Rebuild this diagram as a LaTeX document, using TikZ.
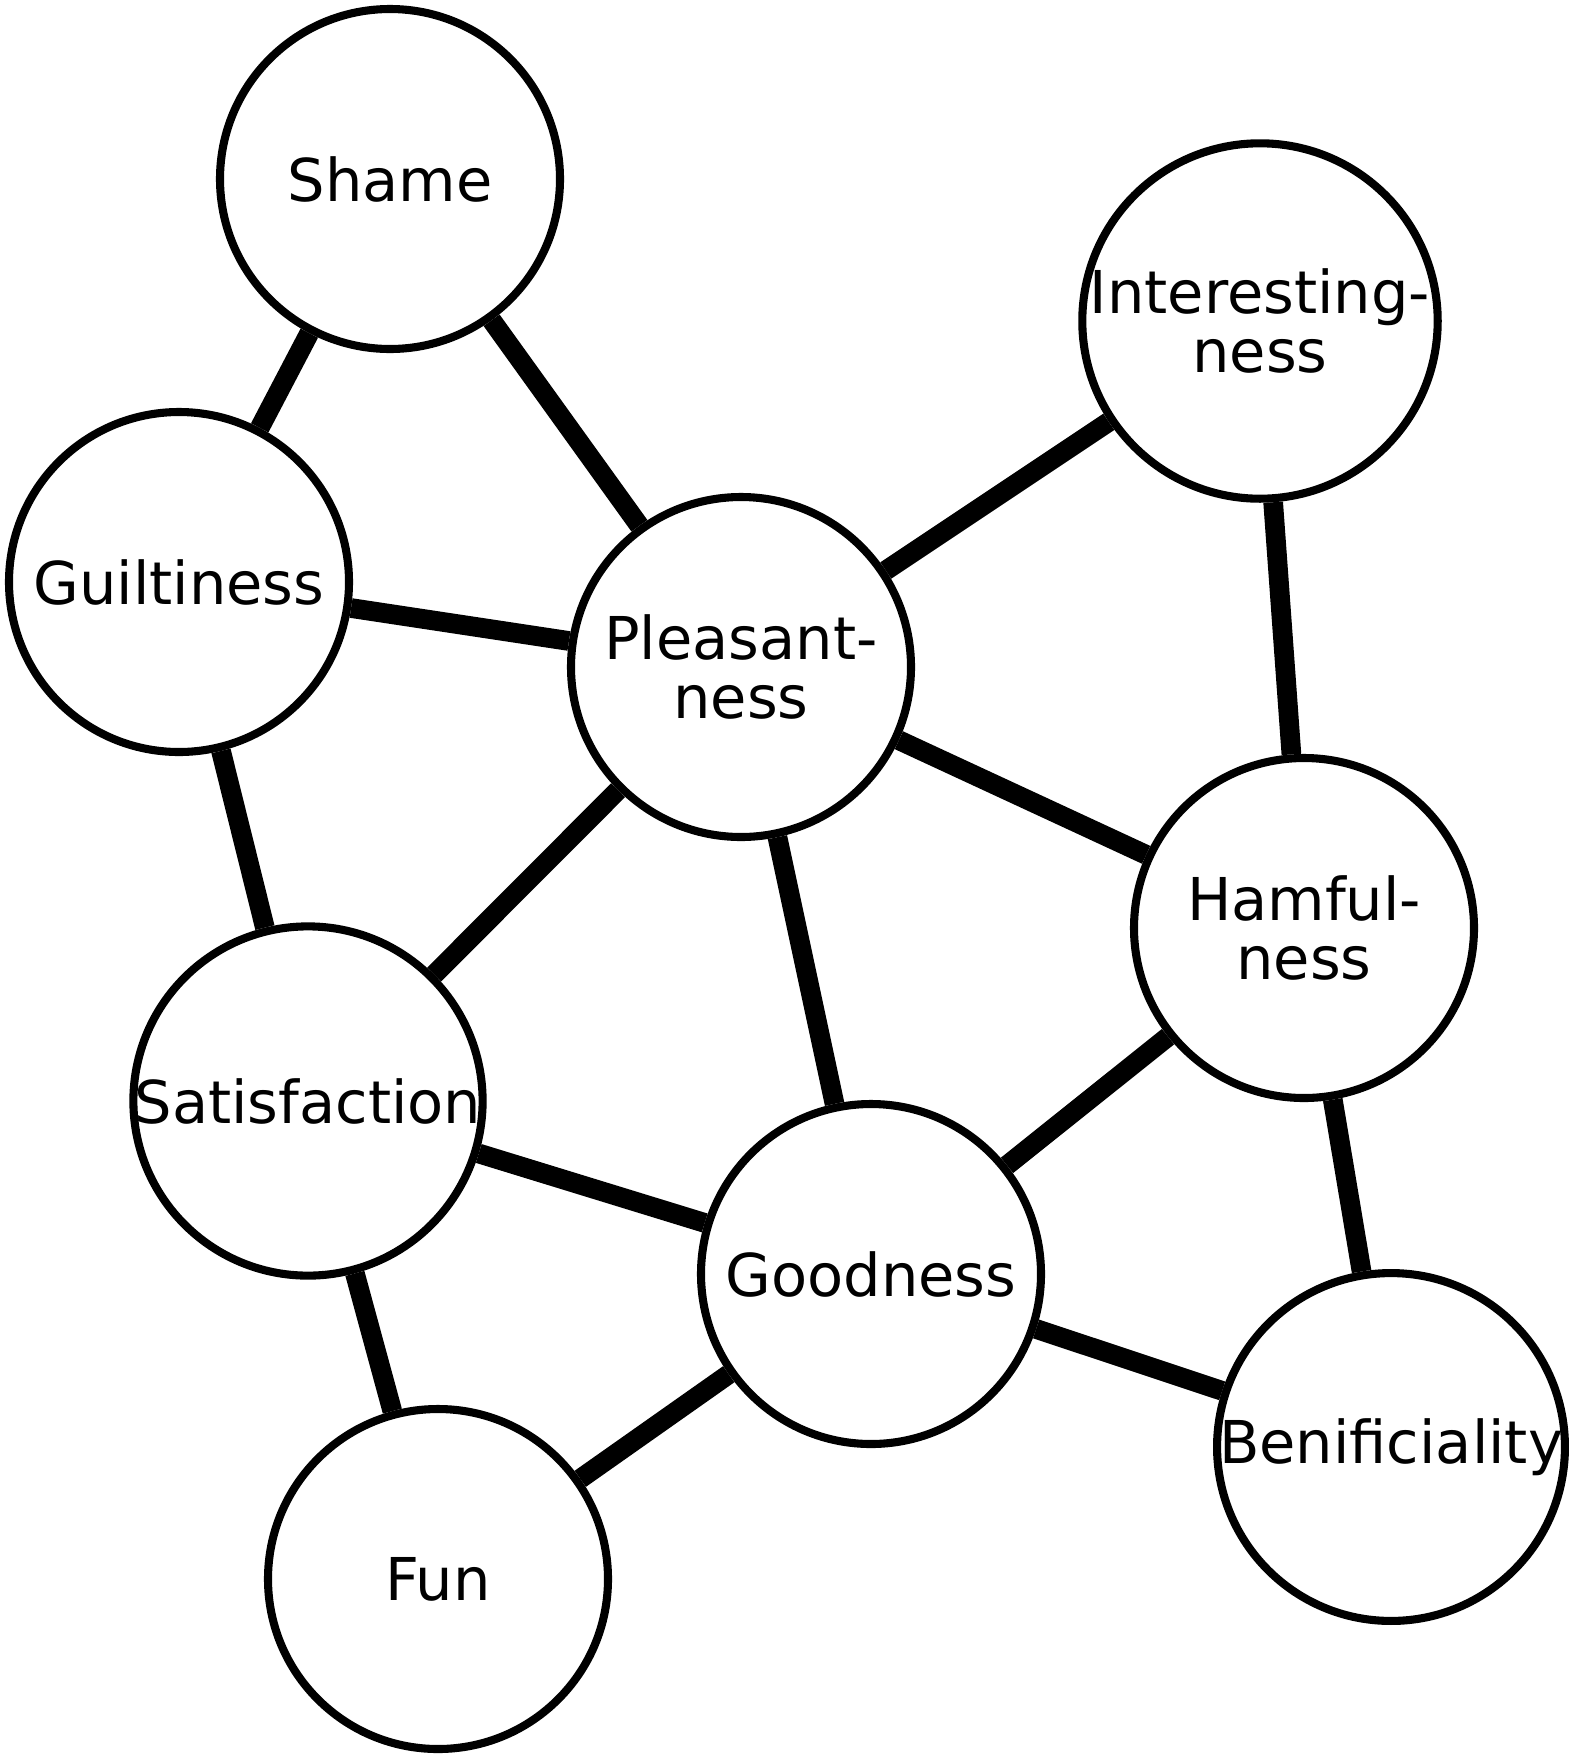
\documentclass[tikz,border=0pt]{standalone}
\usepackage{fontspec}
\setmainfont{DejaVu Sans}
\usetikzlibrary{positioning}
\tikzset{
  emotion/.style={circle,draw=black,line width=2.3pt,fill=white,minimum size=3.40cm,
                  inner sep=0pt,align=center,font=\fontsize{16.8}{16.8}\selectfont},
  tie/.style={black,line width=5.6pt},
}
\begin{document}
\begin{tikzpicture}[x=0.1mm,y=-0.1mm]
    \useasboundingbox[fill=white] (0,0) rectangle (1569,1756);

    % ------------------------------------------------------------- circle centres
    \path (390,179)   coordinate (c-shame)
          (1260,321)  coordinate (c-interest)
          (179,582)   coordinate (c-guilt)
          (741,667)   coordinate (c-pleasant)
          (1304,928)  coordinate (c-harm)
          (308,1101)  coordinate (c-satis)
          (871,1274)  coordinate (c-good)
          (1391,1447) coordinate (c-benefit)
          (438,1579)  coordinate (c-fun);

    % ------------------------------------------------------------------- the circles
    \node[emotion] (shame)    at (c-shame)    {Shame};
    \node[emotion] (interest) at (c-interest) {Interesting-\\ness};
    \node[emotion] (guilt)    at (c-guilt)    {Guiltiness};
    \node[emotion] (pleasant) at (c-pleasant) {Pleasant-\\ness};
    \node[emotion] (harm)     at (c-harm)     {Hamful-\\ness};
    \node[emotion] (satis)    at (c-satis)    {Satisfaction};
    \node[emotion] (good)     at (c-good)     {Goodness};
    \node[emotion] (benefit)  at (c-benefit)  {Benificiality};
    \node[emotion] (fun)      at (c-fun)      {Fun};

    % ------------------------------------------------------------------ connections
    \draw[tie] (shame)    -- (guilt);
    \draw[tie] (shame)    -- (pleasant);
    \draw[tie] (guilt)    -- (pleasant);
    \draw[tie] (guilt)    -- (satis);
    \draw[tie] (pleasant) -- (interest);
    \draw[tie] (pleasant) -- (harm);
    \draw[tie] (pleasant) -- (satis);
    \draw[tie] (pleasant) -- (good);
    \draw[tie] (interest) -- (harm);
    \draw[tie] (harm)     -- (good);
    \draw[tie] (harm)     -- (benefit);
    \draw[tie] (satis)    -- (good);
    \draw[tie] (satis)    -- (fun);
    \draw[tie] (good)     -- (fun);
    \draw[tie] (good)     -- (benefit);
  \end{tikzpicture}
\end{document}
